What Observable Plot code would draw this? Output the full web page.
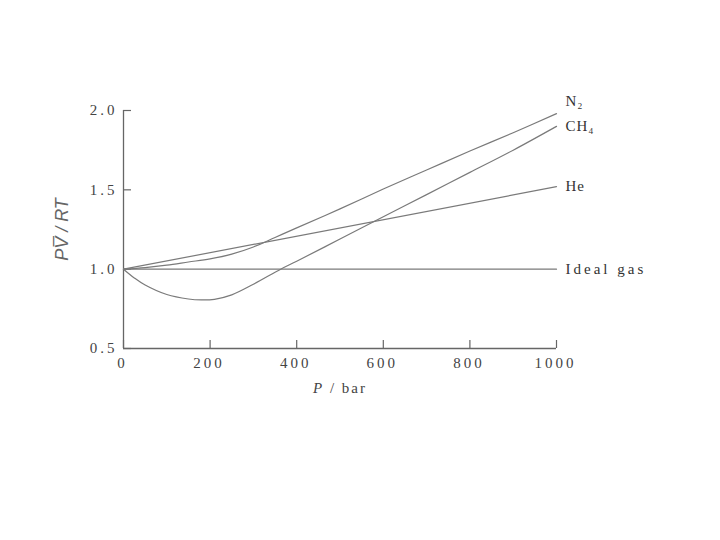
<!DOCTYPE html>
<html><head><meta charset="utf-8">
<script src="https://cdn.jsdelivr.net/npm/d3@7"></script>
<script src="https://cdn.jsdelivr.net/npm/@observablehq/plot@0.6"></script>
<style>body{margin:0;background:#fff}</style>
</head><body><div id="chart"></div>
<script>
// Data
const nitrogenP = [0, 50, 100, 150, 200, 250, 300, 350, 400, 500, 600, 700, 800, 900, 1000];
const nitrogenZ = [1.0, 1.01, 1.025, 1.045, 1.065, 1.095, 1.14, 1.20, 1.26, 1.38, 1.505, 1.625, 1.745, 1.86, 1.98];
const methaneP = [0, 25, 50, 100, 150, 180, 210, 250, 300, 363, 400, 500, 600, 700, 800, 900, 1000];
const methaneZ = [1.0, 0.945, 0.9, 0.84, 0.812, 0.806, 0.81, 0.838, 0.905, 1.0, 1.05, 1.19, 1.33, 1.47, 1.61, 1.75, 1.90];
const heliumP = [0, 1000];
const heliumZ = [1.0, 1.52];
const idealP = [0, 1000];
const idealZ = [1.0, 1.0];
const seriesNames = ["N₂", "CH₄", "He", "Ideal gas"];
const xTicks = [0, 200, 400, 600, 800, 1000];
const yTicks = [0.5, 1.0, 1.5, 2.0];
const xLabel = "P / bar";
const yLabel = "PV / RT";

const series = [
  [nitrogenP, nitrogenZ], [methaneP, methaneZ], [heliumP, heliumZ], [idealP, idealZ]
];
const rows = series.flatMap(([ps, zs], i) => ps.map((p, j) => ({gas: seriesNames[i], P: p, Z: zs[j]})));
const ends = series.map(([ps, zs], i) => ({gas: seriesNames[i], P: ps[ps.length - 1], Z: zs[zs.length - 1]}));

const W = 720, H = 540, mL = 123, mR = 164, mT = 110, mB = 192;
const frameW = W - mL - mR, frameH = H - mT - mB;

const chart = Plot.plot({
  width: W, height: H,
  marginLeft: mL, marginRight: mR, marginTop: mT, marginBottom: mB,
  style: {fontFamily: "'Liberation Serif', serif", background: "#fff", overflow: "visible"},
  x: {domain: [0, 1000]},
  y: {domain: [0.5, 2.0]},
  marks: [
    Plot.ruleX([0], {stroke: "#666", strokeWidth: 1.3}),
    Plot.ruleY([0.5], {stroke: "#666", strokeWidth: 1.3}),
    Plot.tickY(yTicks, {y: d => d, insetRight: frameW - 8, stroke: "#666", strokeWidth: 1.2}),
    Plot.tickX(xTicks, {x: d => d, insetTop: frameH - 8, stroke: "#666", strokeWidth: 1.2}),
    Plot.axisY({ticks: yTicks, tickSize: 0, tickPadding: 6, fill: "#444", fontSize: 15, tickFormat: d3.format(".1f"), label: null}),
    Plot.axisX({ticks: xTicks, tickSize: 0, tickPadding: 9, dx: -1, fill: "#444", fontSize: 15, tickFormat: d => String(d), label: null}),
    Plot.line(rows, {x: "P", y: "Z", z: "gas", stroke: "#7a7a7a", strokeWidth: 1.2, curve: "catmull-rom"}),
    Plot.text(ends, {x: "P", y: "Z", text: "gas", dx: 9, textAnchor: "start", fontSize: 15, fill: "#333"}),
    Plot.text([xLabel], {frameAnchor: "bottom", dy: 44, fontSize: 15, fill: "#444"}),
    Plot.text([yLabel], {frameAnchor: "left", dx: -61, rotate: -90, textAnchor: "middle", fontSize: 18, fill: "#666", fontFamily: "'Liberation Sans', sans-serif"})
  ]
});
document.getElementById("chart").appendChild(chart);

const svg = d3.select(chart);
svg.selectAll("[aria-label='y-axis tick label'] text, [aria-label='x-axis tick label'] text").attr("letter-spacing", "3");
svg.selectAll("text").each(function() {
  const t = d3.select(this);
  const s = t.text();
  if (s === "Ideal gas") t.attr("letter-spacing", "3");
  else if (s === "N₂") t.attr("letter-spacing", "1").attr("dy", "-12");
  else if (s === "CH₄" || s === "He") t.attr("letter-spacing", "1");
  else if (s === xLabel) {
    t.text(null).attr("letter-spacing", "2");
    t.append("tspan").attr("font-style", "italic").text("P");
    t.append("tspan").text(" / bar");
  } else if (s === yLabel) {
    t.text(null).attr("font-style", "italic");
    t.append("tspan").text("P");
    t.append("tspan").text("V\u0305");
    t.append("tspan").text(" / RT");
  }
});
</script>
</body></html>
